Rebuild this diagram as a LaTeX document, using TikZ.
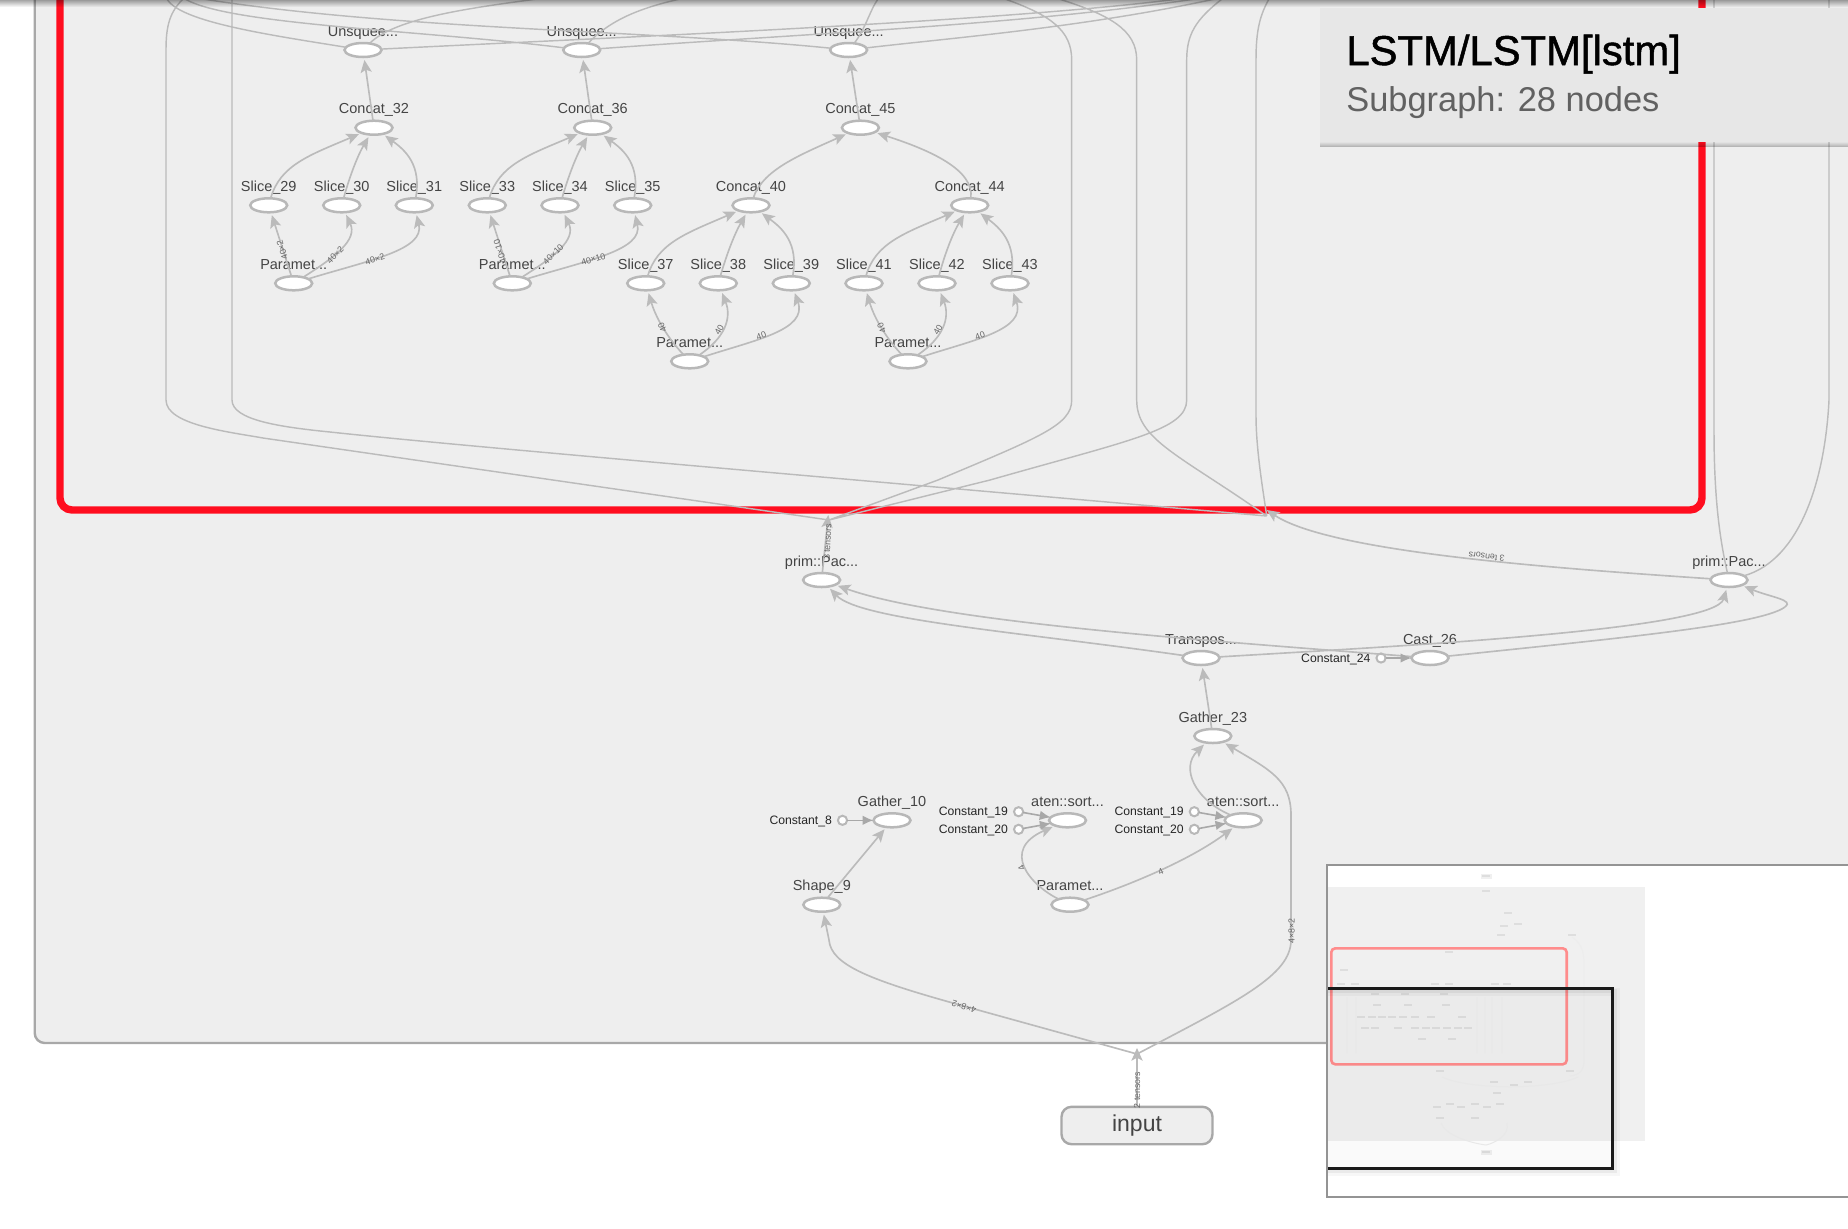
\documentclass[tikz,border=0pt]{standalone}
\usepackage{fontspec}
\setmainfont{Liberation Sans}
\newfontfamily\cardfont[FakeBold=1.2]{Liberation Sans}
\usetikzlibrary{arrows.meta,shapes.geometric,shadows,fadings}

\definecolor{panelgray}{HTML}{EEEEEE}
\definecolor{framegray}{HTML}{A8A8A8}
\definecolor{linegray}{HTML}{BBBBBB}
\definecolor{ringgray}{HTML}{B8B8B8}
\definecolor{textgray}{HTML}{444444}
\definecolor{lstmred}{HTML}{FF0D1F}
\definecolor{cardgray}{HTML}{E7E7E7}

\tikzset{
	opnode/.style={ellipse,draw=ringgray,fill=white,line width=1.25pt,inner sep=0,outer sep=0,minimum width=18.5pt,minimum height=7pt},
	oplabel/.style={text=textgray,inner sep=0,text depth=0pt,font=\fontsize{7.25}{8}\selectfont},
	op/.style={opnode,label={[oplabel,label distance=3.3pt]above:#1}},
	constnode/.style={circle,draw=ringgray,fill=white,line width=1pt,inner sep=0,outer sep=0,minimum size=4.6pt},
	constlabel/.style={text=black!85,inner sep=0,yshift=-.6pt,font=\fontsize{6.1}{7}\selectfont},
	const/.style={constnode,label={[constlabel,label distance=2.8pt]left:#1}},
	bare/.style={draw=linegray,line width=.72pt},
	flow/.style={draw=linegray,line width=.82pt,-{Stealth[length=6.3pt,width=5.6pt,inset=1.4pt,fill=linegray]},shorten >=1.5pt},
	constflow/.style={draw=framegray,line width=.8pt,-{Latex[length=5.5pt,width=4.8pt]}},
	lbl/.style={text=black!60,inner sep=0,font=\fontsize{4.4}{5}\selectfont}
}

\begin{document}
\begin{tikzpicture}[x=0.5pt,y=-0.5pt]
	\useasboundingbox (0,0) rectangle (1848,1228);
	\fill[white] (0,0) rectangle (1848,1228);

	% main frame and lstm frame
	\draw[fill=panelgray,draw=framegray,line width=1.2pt,rounded corners=5pt] (34.7,-20) rectangle (1900,1043);
	\draw[lstmred,line width=3.7pt,rounded corners=6pt] (60,-20) rectangle (1702,510);

	% ops inside lstm
	\path
		(363,50) node[op=Unsquee...](unsqa){}
		(581.7,50) node[op=Unsquee...](unsqb){}
		(848.6,50) node[op=Unsquee...](unsqc){}
		(374,127.7) node[op=Concat\_32](concatA){}
		(592.7,127.7) node[op=Concat\_36](concatB){}
		(860.4,127.7) node[op=Concat\_45](concatE){}
		(751,205.3) node[op=Concat\_40](concatC){}
		(969.7,205.3) node[op=Concat\_44](concatD){}
		(268.7,205.3) node[op=Slice\_29](sliceA){}
		(341.7,205.3) node[op=Slice\_30](sliceB){}
		(414.3,205.3) node[op=Slice\_31](sliceC){}
		(487.3,205.3) node[op=Slice\_33](sliceD){}
		(560,205.3) node[op=Slice\_34](sliceE){}
		(632.7,205.3) node[op=Slice\_35](sliceF){}
		(645.7,283.3) node[op=Slice\_37](sliceG){}
		(718.3,283.3) node[op=Slice\_38](sliceH){}
		(791.3,283.3) node[op=Slice\_39](sliceI){}
		(864,283.3) node[op=Slice\_41](sliceJ){}
		(937,283.3) node[op=Slice\_42](sliceK){}
		(1010,283.3) node[op=Slice\_43](sliceL){}
		(293.7,283.3) node[op=Paramet...](paramA){}
		(512.3,283.3) node[op=Paramet...](paramB){}
		(689.7,361.3) node[op=Paramet...](paramC){}
		(908,361.3) node[op=Paramet...](paramD){}
	;
	% ops below lstm
	\path
		(821.6,580) node[op=prim::Pac...](packA){}
		(1729,580) node[op=prim::Pac...](packB){}
		(1201,658) node[op=Transpos...](transpos){}
		(1430,658) node[op=Cast\_26](cast){}
		(1381,658) node[const=Constant\_24](constX){}
		(1212.8,736) node[op=Gather\_23](gatherB){}
		(892,820.3) node[op=Gather\_10](gatherA){}
		(842.5,820.3) node[const=Constant\_8](constW){}
		(821.8,904.7) node[op=Shape\_9](shape){}
		(1067.5,820.3) node[op=aten::sort...](sortA){}
		(1243.2,820.3) node[op=aten::sort...](sortB){}
		(1018.6,811.7) node[const=Constant\_19](constA){}
		(1018.6,829.3) node[const=Constant\_20](constB){}
		(1194.3,811.7) node[const=Constant\_19](constC){}
		(1194.3,829.3) node[const=Constant\_20](constD){}
		(1070,904.7) node[op=Paramet...](paramE){}
	;
	\node[draw=framegray,fill=panelgray,line width=1.2pt,rounded corners=5pt,minimum width=75.5pt,minimum height=18.7pt,inner sep=0,text=textgray,font=\fontsize{11.5}{12}\selectfont] (input) at (1137,1125.5) {\raisebox{-.8pt}{input}};

	% free ends of the connectors
	\path
		(828.6,512) coordinate(tipA)
		(829,520) coordinate(meetA)
		(1266.7,510) coordinate(tipB)
		(1266.7,516) coordinate(meetB)
		(1137,1045) coordinate(tipC)
		(1137,1054) coordinate(meetC)
		(183,-1) coordinate(topA)
		(232,-1) coordinate(topB)
		(1005,-1) coordinate(topC)
		(1059,-1) coordinate(topD)
		(1222,-1) coordinate(topE)
		(1269,-1) coordinate(topF)
		(1714,-1) coordinate(topG)
		(1829,-1) coordinate(topH)
		(167,-1) coordinate(topI)
		(185,-1) coordinate(topJ)
		(203,-1) coordinate(topK)
		(537,-1) coordinate(topL)
		(680,-1) coordinate(topM)
		(878,-1) coordinate(topN)
		(1178,-1) coordinate(topO)
		(1195,-1) coordinate(topP)
		(1215,-1) coordinate(topQ)
	;

	% long connectors
	\path[bare]
		(topA) .. controls (170,12) and (166,25) .. (166,50) -- (166,400) .. controls (166,425) and (230,432) .. (263,438) -- (meetA)
		(topB) -- (232,400) .. controls (232,420) and (280,427) .. (330,432) .. controls (450,445) and (800,475) .. (meetB)
		(topC) .. controls (1050,15) and (1071.7,30) .. (1071.7,60) -- (1071.7,400) .. controls (1071.7,425) and (1040,437) .. (938,480) -- (meetA)
		(topE) .. controls (1195,20) and (1186.7,35) .. (1186.7,60) -- (1186.7,400) .. controls (1186.7,430) and (1130,440) .. (990,480) -- (meetA)
		(topD) .. controls (1110,15) and (1136.7,30) .. (1136.7,60) -- (1136.7,400) .. controls (1136.7,440) and (1180,455) .. (meetB)
		(topF) .. controls (1260,15) and (1256,30) .. (1256,60) -- (1256,415) .. controls (1256,450) and (1263,490) .. (meetB)
		(topG) -- (1714,430) .. controls (1714,500) and (1720,540) .. (packB)
		(topH) -- (1829,400) .. controls (1825,480) and (1800,560) .. (packB)
		(topI) .. controls (180,22) and (270,35) .. (unsqa)
		(topJ) .. controls (230,25) and (420,30) .. (unsqb)
		(topK) .. controls (400,30) and (650,30) .. (unsqc)
		(unsqa) .. controls (395,18) and (470,8) .. (topL)
		(unsqb) .. controls (610,20) and (640,8) .. (topM)
		(unsqc) .. controls (865,30) and (870,10) .. (topN)
		(unsqa) .. controls (600,38) and (1000,22) .. (topO)
		(unsqb) .. controls (800,34) and (1020,25) .. (topP)
		(unsqc) .. controls (950,38) and (1080,28) .. (topQ)
	;

	% concat and slice groups
	\draw[flow] (concatA) -- (unsqa);
	\draw[flow] (concatB) -- (unsqb);
	\draw[flow] (concatE) -- (unsqc);
	\draw[flow] (sliceA) .. controls (280,165) and (310,155) .. (concatA);
	\draw[flow] (sliceB) .. controls (350,175) and (358,155) .. (concatA);
	\draw[flow] (sliceC) .. controls (422,165) and (405,150) .. (concatA);
	\draw[flow] (sliceD) .. controls (498.7,165) and (528.7,155) .. (concatB);
	\draw[flow] (sliceE) .. controls (568.7,175) and (576.7,155) .. (concatB);
	\draw[flow] (sliceF) .. controls (640.7,165) and (623.7,150) .. (concatB);
	\draw[flow] (concatC) .. controls (762,170) and (800,155) .. (concatE);
	\draw[flow] (concatD) .. controls (975,170) and (930,150) .. (concatE);
	\draw[flow] (sliceG) .. controls (657,243) and (687,233) .. (concatC);
	\draw[flow] (sliceH) .. controls (727,253) and (735,233) .. (concatC);
	\draw[flow] (sliceI) .. controls (799,243) and (782,228) .. (concatC);
	\draw[flow] (sliceJ) .. controls (875,243) and (905,233) .. (concatD);
	\draw[flow] (sliceK) .. controls (945,253) and (953,233) .. (concatD);
	\draw[flow] (sliceL) .. controls (1017,243) and (1000,228) .. (concatD);
	\draw[flow] (paramA) -- (sliceA);
	\draw[flow] (paramA) .. controls (335,257) and (358,240) .. (sliceB);
	\draw[flow] (paramA) .. controls (370,260) and (425,250) .. (sliceC);
	\draw[flow] (paramB) -- (sliceD);
	\draw[flow] (paramB) .. controls (553.7,257) and (576.7,240) .. (sliceE);
	\draw[flow] (paramB) .. controls (588.7,260) and (643.7,250) .. (sliceF);
	\draw[flow] (paramC) .. controls (665,335) and (655,315) .. (sliceG);
	\draw[flow] (paramC) .. controls (725,338) and (732,318) .. (sliceH);
	\draw[flow] (paramC) .. controls (755,340) and (808,330) .. (sliceI);
	\draw[flow] (paramD) .. controls (883.3,335) and (873.3,315) .. (sliceJ);
	\draw[flow] (paramD) .. controls (943.3,338) and (950.3,318) .. (sliceK);
	\draw[flow] (paramD) .. controls (973.3,340) and (1026.3,330) .. (sliceL);

	% connectors below lstm
	\draw[flow] (packA) -- (tipA);
	\draw[flow,shorten >=0pt] (packB) .. controls (1550,568) and (1330,552) .. (tipB);
	\draw[flow] (transpos) .. controls (1020,632) and (860,620) .. (packA);
	\draw[flow] (cast) .. controls (1200,640) and (940,622) .. (packA);
	\draw[flow] (transpos) .. controls (1400,646) and (1715,630) .. (packB);
	\path[bare,line width=.82pt] (cast) .. controls (1620,638) and (1760,625) .. (1785,607);
	\draw[flow] (1785,607) .. controls (1795,600) and (1770,597) .. (packB);
	\draw[flow] (gatherB) -- (transpos);
	\draw[flow] (sortB) .. controls (1195,800) and (1180,768) .. (gatherB);
	\draw[flow] (paramE) .. controls (1030,885) and (1000,850) .. (sortA);
	\draw[flow] (paramE) .. controls (1130,885) and (1190,860) .. (sortB);
	\draw[flow] (shape) -- (gatherA);
	\draw[flow] (meetC) -- (960,1005) .. controls (870,980) and (831,965) .. (829,940) -- (shape);
	\draw[flow] (meetC) .. controls (1240,1000) and (1291,975) .. (1291,940) -- (1291,815) .. controls (1291,780) and (1270,770) .. (gatherB);
	\draw[flow] (input) -- (tipC);
	\draw[constflow] (constW) -- (gatherA);
	\draw[constflow] (constX) -- (cast);
	\draw[constflow] (constA) -- (sortA);
	\draw[constflow] (constB) -- (sortA);
	\draw[constflow] (constC) -- (sortB);
	\draw[constflow] (constD) -- (sortB);

	% edge labels
	\path
		(282.3,250) node[lbl,rotate=107](lblA){40×2}
		(335.3,255) node[lbl,rotate=45](lblB){40×2}
		(375,259.3) node[lbl,rotate=17](lblC){40×2}
		(500,251.7) node[lbl,rotate=107](lblD){40×10}
		(553.3,254.3) node[lbl,rotate=45](lblE){40×10}
		(593.3,259.3) node[lbl,rotate=17](lblF){40×10}
		(662.3,327.7) node[lbl,rotate=115](lblG){40}
		(719.3,330) node[lbl,rotate=60](lblH){40}
		(761.3,336) node[lbl,rotate=20](lblI){40}
		(881.7,328) node[lbl,rotate=115](lblJ){40}
		(938,330) node[lbl,rotate=60](lblK){40}
		(980,336) node[lbl,rotate=20](lblL){40}
		(827.5,541.7) node[lbl,rotate=87](lblM){3 tensors}
		(1486.5,556.7) node[lbl,rotate=173](lblN){3 tensors}
		(1021.5,868) node[lbl,rotate=120](lblO){4}
		(1160.7,871.7) node[lbl,rotate=25](lblP){4}
		(964,1007) node[lbl,rotate=163](lblQ){4×8×2}
		(1291.7,931) node[lbl,rotate=90](lblR){4×8×2}
		(1137,1090) node[lbl,rotate=90](lblS){2 tensors}
	;

	% shadow under the toolbar, and the info card
	\fill[black,path fading=south,opacity=.35] (0,0) rectangle (1848,7);
	\fill[black,path fading=north,opacity=.28] (1320,141) rectangle (1848,147);
	\fill[cardgray] (1320,8) rectangle (1870,141.7);
	\node[anchor=base west,inner sep=0,font=\cardfont\fontsize{20.9}{22}\selectfont] (title) at (1346,65) {LSTM/LSTM[lstm]};
	\node[anchor=base west,inner sep=0,text=black!62,font=\fontsize{17.2}{18}\selectfont] (subtitle) at (1346,111.5) {Subgraph: 28 nodes};

	% minimap
	\begin{scope}
		\fill[white] (1327,865) rectangle (1870,1197);
		\fill[panelgray!85!white] (1327,886.7) rectangle (1644.6,1140.7);
		\draw[red!45!white,line width=1.3pt,rounded corners=2pt] (1331.3,948.3) rectangle (1566.7,1064.3);
		\foreach \px/\py in {1486/876,1486/891,1508/913,1518/924,1504/926,1501/935,1572/935,1449/952,1344/970,1341/984,1355/984,1435/984,1449/984,1495/984,1507/984,1375/994,1405/994,1444/994,1377/1005,1408/1005,1446/1005,1361/1017,1372/1017,1382/1017,1392/1017,1403/1017,1415/1017,1431/1017,1462/1017,1365/1028,1375/1028,1398/1028,1415/1028,1426/1028,1436/1028,1447/1028,1458/1028,1468/1028,1422/1039,1452/1039,1440/1071,1570/1071,1494/1082,1528/1082,1514/1085,1497/1093,1450/1104,1475/1104,1500/1104,1437/1107,1461/1107,1487/1107,1440/1118,1475/1118,1486/1152}{
			\fill[black!6] (\px-5.5,\py-2.5) rectangle (\px+5.5,\py+2.5);
			\fill[black!13] (\px-4,\py-1) rectangle (\px+4,\py+1);
		}
		\path[draw=black!7,line width=.5pt]
			(1347,997) -- (1347,1053) (1356,997) -- (1356,1053) (1477,997) -- (1477,1053)
			(1485,997) -- (1485,1053) (1492,997) -- (1492,1053) (1502,997) -- (1502,1053)
			(1572,937) .. controls (1584,945) and (1584,955) .. (1584,970) -- (1584,1060) .. controls (1584,1070) and (1580,1075) .. (1570,1076)
			(1442,1077) .. controls (1470,1090) and (1550,1090) .. (1578,1077)
			(1441,1123) .. controls (1445,1135) and (1470,1143) .. (1486,1145) .. controls (1495,1143) and (1510,1135) .. (1507,1123)
		;
		\draw[black,opacity=.03,line width=4pt] (1327,992) -- (1616,992) -- (1616,1172) -- (1327,1172);
		\draw[black,opacity=.05,line width=2pt] (1327,991) -- (1615,991) -- (1615,1171) -- (1327,1171);
		\fill[black,opacity=.02] (1327,988.3) rectangle (1612.7,1168.3);
		\draw[black!90,line width=1.3pt] (1327,988.3) -- (1612.7,988.3) -- (1612.7,1168.3) -- (1327,1168.3);
		\draw[black!42,line width=1.1pt,fill=none] (1870,865) -- (1327,865) -- (1327,1197) -- (1870,1197);
	\end{scope}
\end{tikzpicture}
\end{document}
